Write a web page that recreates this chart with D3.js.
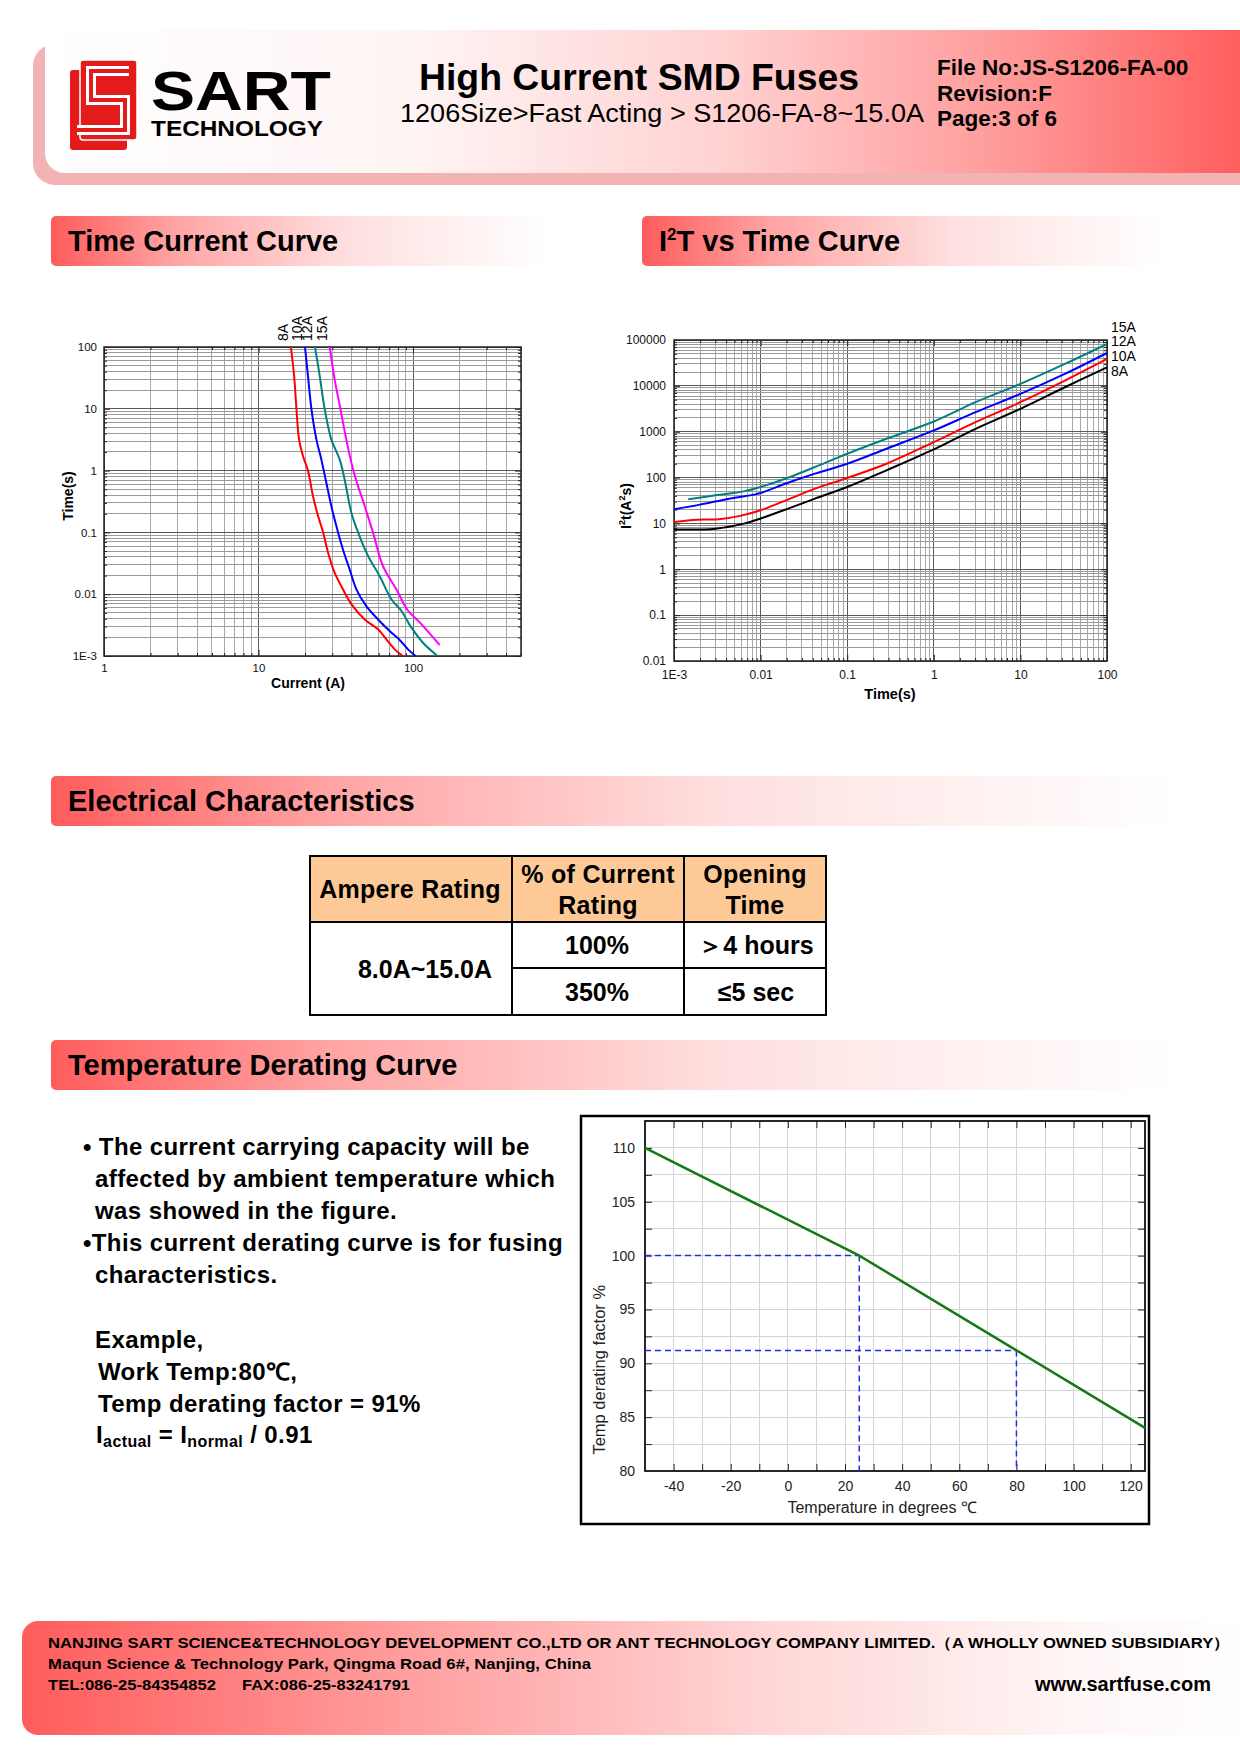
<!DOCTYPE html>
<html>
<head>
<meta charset="utf-8">
<script src="https://cdn.jsdelivr.net/npm/d3@7"></script>
<style>
  body { margin: 0; background: #fff; }
  svg { display: block; font-family: "Liberation Sans", Arial, sans-serif; }
</style>
</head>
<body>
<div class="page"></div>
<script>
// ---- data ----

const ratings = ["8A", "10A", "12A", "15A"];

// time current curve, [current (A), time (s)]
const tcc8A = [[16.2, 100], [17.0, 34], [17.6, 10], [18.3, 3.2], [19.4, 1.72], [20.9, 1], [22.5, 0.39], [24.3, 0.184], [26.2, 0.1], [28.2, 0.047], [31.1, 0.0223], [35.2, 0.012], [39.9, 0.0069], [48.7, 0.0039], [59.4, 0.0027], [67.2, 0.00186], [76.1, 0.00128], [86, 0.001]];
const tcc10A = [[20.0, 100], [20.9, 34], [22.0, 10], [23.7, 3.2], [25.5, 1.52], [27.2, 0.72], [29.6, 0.267], [31.9, 0.127], [35.2, 0.053], [38.9, 0.0252], [43.0, 0.012], [49.9, 0.0064], [59.4, 0.0039], [70.6, 0.00254], [82.0, 0.00182], [92.8, 0.00128], [104, 0.001]];
const tcc12A = [[23.2, 100], [24.9, 34], [26.8, 10], [29.6, 3.2], [33.5, 1.52], [36.1, 0.72], [39.9, 0.208], [44.1, 0.1], [51.2, 0.0415], [60.8, 0.0197], [72.4, 0.0083], [84.0, 0.0054], [97.5, 0.0029], [116, 0.00164], [144, 0.001]];
const tcc15A = [[28.9, 100], [31.1, 30], [33.9, 10], [37.0, 3.2], [40.9, 1.05], [44.1, 0.56], [48.7, 0.267], [55.1, 0.1], [63.9, 0.0286], [78.0, 0.012], [92.8, 0.0054], [110.5, 0.0035], [149, 0.0015]];

const tccXTicks = [1, 10, 100];
const tccXLabels = ["1", "10", "100"];
const tccYTicks = [0.001, 0.01, 0.1, 1, 10, 100];
const tccYLabels = ["1E-3", "0.01", "0.1", "1", "10", "100"];

// I2t vs time, [time (s), I2t (A2s)]
const i2t8A = [[0.001, 7.4], [0.003, 7.7], [0.0064, 9.9], [0.01, 12.8], [0.0219, 21.8], [0.0424, 34.7], [0.1, 62.4], [0.284, 144], [1, 411], [3.04, 1158], [10, 3155], [32.6, 9330], [100, 25400]];
const i2t10A = [[0.001, 10.8], [0.00185, 12.1], [0.00327, 12.3], [0.0058, 14.6], [0.01, 19.4], [0.0219, 34.7], [0.0424, 57.4], [0.1, 98], [0.284, 200], [1, 594], [3.04, 1618], [10, 4400], [32.6, 13000], [100, 38600]];
const i2t12A = [[0.001, 20.4], [0.002, 25.7], [0.00435, 34.7], [0.0085, 42.5], [0.01, 46], [0.0219, 80], [0.0424, 122], [0.1, 200], [0.284, 425], [1, 1066], [3.04, 2670], [10, 6680], [32.6, 18200], [100, 52100]];
const i2t15A = [[0.00146, 33.6], [0.003, 41], [0.0064, 50], [0.01, 62.4], [0.0219, 103], [0.0424, 170], [0.1, 331], [0.284, 701], [1, 1670], [3.04, 4400], [10, 11040], [32.6, 30060], [100, 81800]];

const i2tXTicks = [0.001, 0.01, 0.1, 1, 10, 100];
const i2tXLabels = ["1E-3", "0.01", "0.1", "1", "10", "100"];
const i2tYTicks = [0.01, 0.1, 1, 10, 100, 1000, 10000, 100000];
const i2tYLabels = ["0.01", "0.1", "1", "10", "100", "1000", "10000", "100000"];

// temperature derating
const derateTemp = [-50, 25, 80, 125];
const derateFactor = [110, 100, 91.2, 84];
const derateRefTemp = [25, 80];
const derateRefFactor = [100, 91.2];
const derateXTicks = [-40, -20, 0, 20, 40, 60, 80, 100, 120];
const derateYTicks = [80, 85, 90, 95, 100, 105, 110];

// electrical characteristics table
const tableHeader = [["Ampere Rating"], ["% of Current", "Rating"], ["Opening", "Time"]];
const tableRating = "8.0A~15.0A";
const tablePercent = ["100%", "350%"];
const tableTime = ["\uFF1E4 hours", "\u22645 sec"];

const noteLines = [
  "\u2022 The current carrying capacity will be",
  "affected by ambient temperature which",
  "was showed in the figure.",
  "\u2022This current derating curve is for fusing",
  "characteristics."
];
const exampleLines = ["Example,", "Work Temp:80\u2103,", "Temp derating factor = 91%"];

const footerLines = [
  "NANJING SART SCIENCE&TECHNOLOGY DEVELOPMENT CO.,LTD OR ANT TECHNOLOGY COMPANY LIMITED.\uFF08A WHOLLY OWNED SUBSIDIARY\uFF09",
  "Maqun Science & Technology Park, Qingma Road 6#, Nanjing, China"
];


// ---- page ----

const svg = d3.select(".page").append("svg")
  .attr("width", 1240)
  .attr("height", 1754);

const defs = svg.append("defs");

function gradient(id, stops) {
  let lg = defs.append("linearGradient").attr("id", id)
    .attr("x1", "0%").attr("x2", "100%").attr("y1", "0%").attr("y2", "0%");
  stops.forEach(s => lg.append("stop").attr("offset", s[0]).attr("stop-color", s[1]));
}

gradient("hdrGrad", [["0%", "#ffffff"], ["30%", "#fff4f4"], ["55%", "#ffd2d2"], ["78%", "#ff9a9a"], ["100%", "#ff5656"]]);
gradient("secGrad", [["0%", "#ff5c5c"], ["25%", "#ffa4a4"], ["60%", "#ffe0e0"], ["100%", "#ffffff"]]);
gradient("footGrad", [["0%", "#ff5c5c"], ["30%", "#ff9c9c"], ["60%", "#ffd6d6"], ["85%", "#fff6f6"], ["100%", "#ffffff"]]);

drawHeader();
sectionBar(51, 216, 497, 50, "Time Current Curve");
sectionBar(642, 216, 521, 50, null);
sectionBar(51, 776, 1125, 50, "Electrical Characteristics");
sectionBar(51, 1040, 1125, 50, "Temperature Derating Curve");

drawTimeCurrent();
drawI2t();
drawTable();
drawNotes();
drawDerating();
drawFooter();


function drawHeader() {
  svg.append("rect").attr("x", 33).attr("y", 44).attr("width", 1240).attr("height", 141)
    .attr("rx", 22).attr("fill", "#f1b3b3");
  svg.append("rect").attr("x", 45).attr("y", 30).attr("width", 1230).attr("height", 143)
    .attr("rx", 20).attr("fill", "url(#hdrGrad)");

  // logo
  let logo = svg.append("g");
  logo.append("rect").attr("x", 70).attr("y", 70).attr("width", 57).attr("height", 80).attr("rx", 3).attr("fill", "#e31b1b");
  logo.append("rect").attr("x", 80).attr("y", 60).attr("width", 57).attr("height", 80).attr("rx", 3)
    .attr("fill", "#e31b1b").attr("stroke", "#fff").attr("stroke-width", 1.5);
  let sPath = "M129,71 H91 V100 H125 V130 H77";
  logo.append("path").attr("d", sPath).attr("fill", "none").attr("stroke", "#fff").attr("stroke-width", 10);
  logo.append("path").attr("d", sPath).attr("fill", "none").attr("stroke", "#e31b1b").attr("stroke-width", 4);

  // squat heavy wordmark, stretched vertically so its box stays clear of the line below
  svg.append("g").attr("transform", "translate(151,110) scale(1,1.2)")
    .append("text").attr("font-size", 46).attr("font-weight", "bold")
    .attr("textLength", 180).attr("lengthAdjust", "spacingAndGlyphs").text("SART");
  svg.append("text").attr("x", 151).attr("y", 136).attr("font-size", 22).attr("font-weight", "bold")
    .attr("textLength", 172).attr("lengthAdjust", "spacingAndGlyphs").text("TECHNOLOGY");

  svg.append("text").attr("x", 419).attr("y", 90).attr("font-size", 36).attr("font-weight", "bold")
    .attr("textLength", 440).attr("lengthAdjust", "spacingAndGlyphs").text("High Current SMD Fuses");
  svg.append("text").attr("x", 400).attr("y", 122).attr("font-size", 25)
    .attr("textLength", 524).attr("lengthAdjust", "spacingAndGlyphs").text("1206Size>Fast Acting > S1206-FA-8~15.0A");

  let info = ["File No:JS-S1206-FA-00", "Revision:F", "Page:3 of 6"];
  svg.selectAll(".info").data(info).enter().append("text")
    .attr("x", 937)
    .attr("y", (d, i) => 75 + i * 25.5)
    .attr("font-size", 22.5)
    .attr("font-weight", "bold")
    .text(d => d);
}

function sectionBar(x, y, w, h, label) {
  svg.append("rect").attr("x", x).attr("y", y).attr("width", w).attr("height", h)
    .attr("rx", 5).attr("fill", "url(#secGrad)");
  let t = svg.append("text").attr("x", x + 17).attr("y", y + 35)
    .attr("font-size", 29).attr("font-weight", "bold");
  if (label) {
    t.text(label);
  } else {
    t.append("tspan").text("I");
    t.append("tspan").attr("font-size", 17).attr("dy", -11).text("2");
    t.append("tspan").attr("dy", 11).text("T vs Time Curve");
  }
}


// log-log chart frame with dense grid
function logSteps(dom) {
  let out = [];
  let lo = Math.floor(Math.log10(dom[0]) + 1e-9);
  let hi = Math.ceil(Math.log10(dom[1]) - 1e-9);
  for (let e = lo; e <= hi; e++) {
    for (let k = 1; k <= 9; k++) {
      let v = +(k * Math.pow(10, e)).toPrecision(6);
      if (v >= dom[0] * 0.999 && v <= dom[1] * 1.001) out.push(v);
    }
  }
  return out;
}

function isDecade(v) {
  let l = Math.log10(v);
  return Math.abs(l - Math.round(l)) < 1e-6;
}

function innerTicks(g, scale, vals, orient, pos, len) {
  let horiz = orient === "axisTop" || orient === "axisBottom";
  let a = g.append("g")
    .attr("transform", horiz ? `translate(0,${pos})` : `translate(${pos},0)`)
    .call(d3[orient](scale).tickValues(vals).tickSize(-len).tickFormat(""));
  a.select(".domain").remove();
  a.selectAll("line").attr("stroke", "#222").attr("stroke-width", 1);
  return a;
}

function logFrame(o) {
  let g = svg.append("g").attr("transform", `translate(${o.left},${o.top})`);
  let x = d3.scaleLog().domain(o.xDomain).range([0, o.width]);
  let y = d3.scaleLog().domain(o.yDomain).range([o.height, 0]);
  let xs = logSteps(o.xDomain), ys = logSteps(o.yDomain);

  let grid = g.append("g").attr("shape-rendering", "crispEdges");
  grid.selectAll(".vg").data(xs).enter().append("line")
    .attr("x1", d => x(d)).attr("x2", d => x(d))
    .attr("y1", 0).attr("y2", o.height)
    .attr("stroke", d => isDecade(d) ? "#5a5a5a" : "#a8a8a8");
  grid.selectAll(".hg").data(ys).enter().append("line")
    .attr("y1", d => y(d)).attr("y2", d => y(d))
    .attr("x1", 0).attr("x2", o.width)
    .attr("stroke", d => isDecade(d) ? "#5a5a5a" : "#9a9a9a");

  let xMaj = xs.filter(isDecade), xMin = xs.filter(d => !isDecade(d));
  let yMaj = ys.filter(isDecade), yMin = ys.filter(d => !isDecade(d));
  innerTicks(g, x, xMaj, "axisTop", 0, 6);
  innerTicks(g, x, xMin, "axisTop", 0, 3);
  innerTicks(g, x, xMaj, "axisBottom", o.height, 6);
  innerTicks(g, x, xMin, "axisBottom", o.height, 3);
  innerTicks(g, y, yMaj, "axisLeft", 0, 6);
  innerTicks(g, y, yMin, "axisLeft", 0, 3);
  innerTicks(g, y, yMaj, "axisRight", o.width, 6);
  innerTicks(g, y, yMin, "axisRight", o.width, 3);

  g.append("rect").attr("width", o.width).attr("height", o.height)
    .attr("fill", "none").attr("stroke", "#222").attr("stroke-width", 1.5);

  // tick labels
  let xl = g.append("g").attr("transform", `translate(0,${o.height})`)
    .call(d3.axisBottom(x).tickValues(o.xTicks).tickSize(0).tickPadding(o.xPad)
      .tickFormat((d, i) => o.xLabels[i]));
  xl.select(".domain").remove();
  xl.selectAll("text").attr("font-size", o.tickFont).attr("font-family", "Liberation Sans, Arial, sans-serif").attr("fill", "#111");

  let yl = g.append("g")
    .call(d3.axisLeft(y).tickValues(o.yTicks).tickSize(0).tickPadding(o.yPad)
      .tickFormat((d, i) => o.yLabels[i]));
  yl.select(".domain").remove();
  yl.selectAll("text").attr("font-size", o.tickFont).attr("font-family", "Liberation Sans, Arial, sans-serif").attr("fill", "#111");

  return { g: g, x: x, y: y };
}


function drawTimeCurrent() {
  let c = logFrame({
    left: 104, top: 347, width: 417, height: 309,
    xDomain: [1, 500], yDomain: [0.001, 100],
    xTicks: tccXTicks, xLabels: tccXLabels,
    yTicks: tccYTicks, yLabels: tccYLabels,
    tickFont: 11.5, xPad: 8, yPad: 7
  });

  let colors = ["#ff0000", "#0000ff", "#008080", "#ff00ff"];
  let sets = [tcc8A, tcc10A, tcc12A, tcc15A];

  let line = d3.line()
    .x(d => c.x(d[0]))
    .y(d => c.y(d[1]))
    .curve(d3.curveCatmullRom.alpha(0.5));

  c.g.selectAll(".tcc").data(sets).enter().append("path")
    .attr("d", d => line(d))
    .attr("fill", "none")
    .attr("stroke", (d, i) => colors[i])
    .attr("stroke-width", 2);

  c.g.selectAll(".tccLab").data(sets).enter().append("text")
    .attr("transform", d => `translate(${c.x(d[0][0]) - 3},-6) rotate(-90)`)
    .attr("font-size", 14)
    .text((d, i) => ratings[i]);

  c.g.append("text").attr("x", 204).attr("y", 341).attr("text-anchor", "middle")
    .attr("font-size", 14).attr("font-weight", "bold").text("Current (A)");
  c.g.append("text").attr("transform", "translate(-31,149) rotate(-90)").attr("text-anchor", "middle")
    .attr("font-size", 14).attr("font-weight", "bold").text("Time(s)");
}


function drawI2t() {
  let c = logFrame({
    left: 674, top: 340, width: 433, height: 321,
    xDomain: [0.001, 100], yDomain: [0.01, 100000],
    xTicks: i2tXTicks, xLabels: i2tXLabels,
    yTicks: i2tYTicks, yLabels: i2tYLabels,
    tickFont: 12, xPad: 9, yPad: 8
  });

  let colors = ["#000000", "#ff0000", "#0000ff", "#008080"];
  let sets = [i2t8A, i2t10A, i2t12A, i2t15A];

  let line = d3.line()
    .x(d => c.x(d[0]))
    .y(d => c.y(d[1]))
    .curve(d3.curveCatmullRom.alpha(0.5));

  c.g.selectAll(".i2t").data(sets).enter().append("path")
    .attr("d", d => line(d))
    .attr("fill", "none")
    .attr("stroke", (d, i) => colors[i])
    .attr("stroke-width", 2);

  // labels stacked at the right, top one is 15A
  let order = ratings.slice().reverse();
  c.g.selectAll(".i2tLab").data(order).enter().append("text")
    .attr("x", 437)
    .attr("y", (d, i) => -8.5 + i * 14.8)
    .attr("font-size", 14)
    .text(d => d);

  c.g.append("text").attr("x", 216).attr("y", 359).attr("text-anchor", "middle")
    .attr("font-size", 14.5).attr("font-weight", "bold").text("Time(s)");

  let yt = c.g.append("text").attr("transform", "translate(-43,166) rotate(-90)").attr("text-anchor", "middle")
    .attr("font-size", 14).attr("font-weight", "bold");
  yt.append("tspan").text("I");
  yt.append("tspan").attr("font-size", 9).attr("dy", -6).text("2");
  yt.append("tspan").attr("dy", 6).text("t(A");
  yt.append("tspan").attr("font-size", 9).attr("dy", -6).text("2");
  yt.append("tspan").attr("dy", 6).text("s)");
}


function drawTable() {
  let cols = [310, 512, 684, 826];
  let rows = [856, 922, 968, 1015];
  let t = svg.append("g").attr("font-size", 25).attr("font-weight", "bold").attr("text-anchor", "middle");

  t.append("rect").attr("x", cols[0]).attr("y", rows[0]).attr("width", cols[3] - cols[0]).attr("height", rows[1] - rows[0])
    .attr("fill", "#fdc997");

  let border = t.append("g").attr("stroke", "#000").attr("stroke-width", 1.2).attr("shape-rendering", "crispEdges");
  border.append("rect").attr("x", cols[0]).attr("y", rows[0]).attr("width", cols[3] - cols[0]).attr("height", rows[3] - rows[0]).attr("fill", "none");
  border.append("line").attr("x1", cols[0]).attr("x2", cols[3]).attr("y1", rows[1]).attr("y2", rows[1]);
  border.append("line").attr("x1", cols[1]).attr("x2", cols[3]).attr("y1", rows[2]).attr("y2", rows[2]);
  border.append("line").attr("x1", cols[1]).attr("x2", cols[1]).attr("y1", rows[0]).attr("y2", rows[3]);
  border.append("line").attr("x1", cols[2]).attr("x2", cols[2]).attr("y1", rows[0]).attr("y2", rows[3]);

  tableHeader.forEach((lines, i) => {
    let cx = (cols[i] + cols[i + 1]) / 2 + (i === 0 ? -1 : 0);
    let cy = (rows[0] + rows[1]) / 2;
    lines.forEach((s, j) => {
      t.append("text").attr("x", cx).attr("y", cy + 9 + (j - (lines.length - 1) / 2) * 31)
        .attr("letter-spacing", 0.3).text(s);
    });
  });

  t.append("text").attr("x", 425).attr("y", (rows[1] + rows[3]) / 2 + 9).text(tableRating);
  tablePercent.forEach((s, i) => {
    t.append("text").attr("x", 597).attr("y", (rows[1 + i] + rows[2 + i]) / 2 + 9).text(s);
  });
  tableTime.forEach((s, i) => {
    t.append("text").attr("x", 756).attr("y", (rows[1 + i] + rows[2 + i]) / 2 + 9).text(s);
  });
}


function drawNotes() {
  let n = svg.append("g").attr("font-size", 24).attr("font-weight", "bold").attr("letter-spacing", 0.4);
  let noteX = [83, 95, 95, 83, 95];
  n.selectAll(".note").data(noteLines).enter().append("text")
    .attr("x", (d, i) => noteX[i])
    .attr("y", (d, i) => 1155 + i * 32)
    .text(d => d);

  let exX = [95, 98, 98];
  n.selectAll(".ex").data(exampleLines).enter().append("text")
    .attr("x", (d, i) => exX[i])
    .attr("y", (d, i) => 1348 + i * 31.8)
    .text(d => d);

  let f = n.append("text").attr("x", 96).attr("y", 1443);
  f.append("tspan").text("I");
  f.append("tspan").attr("font-size", 16).attr("dy", 4).text("actual");
  f.append("tspan").attr("dy", -4).text(" = I");
  f.append("tspan").attr("font-size", 16).attr("dy", 4).text("normal");
  f.append("tspan").attr("dy", -4).text(" / 0.91");
}


function drawDerating() {
  svg.append("rect").attr("x", 581).attr("y", 1116).attr("width", 568).attr("height", 408)
    .attr("fill", "#fff").attr("stroke", "#000").attr("stroke-width", 2.5);

  let left = 645, top = 1121, width = 500, height = 350;
  let g = svg.append("g").attr("transform", `translate(${left},${top})`);
  let x = d3.scaleLinear().domain([-50, 125]).range([0, width]);
  let y = d3.scaleLinear().domain([80, 112.5]).range([height, 0]);

  let xGrid = d3.range(-40, 125, 10);
  let yGrid = d3.range(82.5, 112.5, 2.5);

  let grid = g.append("g").attr("stroke", "#d4d4d4").attr("shape-rendering", "crispEdges");
  grid.selectAll(".vg").data(xGrid).enter().append("line")
    .attr("x1", d => x(d)).attr("x2", d => x(d)).attr("y1", 0).attr("y2", height);
  grid.selectAll(".hg").data(yGrid).enter().append("line")
    .attr("y1", d => y(d)).attr("y2", d => y(d)).attr("x1", 0).attr("x2", width);

  innerTicks(g, x, xGrid, "axisTop", 0, 7);
  innerTicks(g, x, xGrid, "axisBottom", height, 7);
  innerTicks(g, y, yGrid, "axisLeft", 0, 7);
  innerTicks(g, y, yGrid, "axisRight", width, 7);

  g.append("rect").attr("width", width).attr("height", height)
    .attr("fill", "none").attr("stroke", "#111").attr("stroke-width", 1.8);

  // reference dashes
  let refs = derateRefTemp.map((t, i) => [t, derateRefFactor[i]]);
  let dash = g.append("g").attr("stroke", "#1f2fe0").attr("stroke-width", 1.5).attr("stroke-dasharray", "6,4").attr("fill", "none");
  dash.selectAll(".rh").data(refs).enter().append("line")
    .attr("x1", x(-50)).attr("x2", d => x(d[0]))
    .attr("y1", d => y(d[1])).attr("y2", d => y(d[1]));
  dash.selectAll(".rv").data(refs).enter().append("line")
    .attr("x1", d => x(d[0])).attr("x2", d => x(d[0]))
    .attr("y1", d => y(d[1])).attr("y2", y(80));

  let pts = derateTemp.map((t, i) => [t, derateFactor[i]]);
  g.append("path")
    .attr("d", d3.line().x(d => x(d[0])).y(d => y(d[1]))(pts))
    .attr("fill", "none").attr("stroke", "#157a15").attr("stroke-width", 2.5);

  let xl = g.append("g").attr("transform", `translate(0,${height})`)
    .call(d3.axisBottom(x).tickValues(derateXTicks).tickSize(0).tickPadding(10).tickFormat(d => String(d)));
  xl.select(".domain").remove();
  xl.selectAll("text").attr("font-size", 14).attr("font-family", "Liberation Sans, Arial, sans-serif").attr("fill", "#222");

  let yl = g.append("g")
    .call(d3.axisLeft(y).tickValues(derateYTicks).tickSize(0).tickPadding(10).tickFormat(d => String(d)));
  yl.select(".domain").remove();
  yl.selectAll("text").attr("font-size", 14).attr("font-family", "Liberation Sans, Arial, sans-serif").attr("fill", "#222");

  g.append("text").attr("x", x(33)).attr("y", height + 42).attr("text-anchor", "middle")
    .attr("font-size", 16).attr("fill", "#222").text("Temperature in degrees \u2103");
  g.append("text").attr("transform", `translate(-40,${y(89.4)}) rotate(-90)`).attr("text-anchor", "middle")
    .attr("font-size", 16.5).attr("fill", "#222").text("Temp derating factor %");
}


function drawFooter() {
  svg.append("rect").attr("x", 22).attr("y", 1621).attr("width", 1240).attr("height", 114)
    .attr("rx", 16).attr("fill", "url(#footGrad)");

  let f = svg.append("g").attr("font-weight", "bold");
  f.append("text").attr("x", 48).attr("y", 1648).attr("font-size", 15)
    .attr("textLength", 1182).attr("lengthAdjust", "spacingAndGlyphs").text(footerLines[0]);
  f.append("text").attr("x", 48).attr("y", 1669).attr("font-size", 15)
    .attr("textLength", 543).attr("lengthAdjust", "spacingAndGlyphs").text(footerLines[1]);
  f.append("text").attr("x", 48).attr("y", 1690).attr("font-size", 15)
    .attr("textLength", 168).attr("lengthAdjust", "spacingAndGlyphs").text("TEL:086-25-84354852");
  f.append("text").attr("x", 242).attr("y", 1690).attr("font-size", 15)
    .attr("textLength", 168).attr("lengthAdjust", "spacingAndGlyphs").text("FAX:086-25-83241791");
  f.append("text").attr("x", 1211).attr("y", 1691).attr("font-size", 20).attr("text-anchor", "end")
    .text("www.sartfuse.com");
}
</script>
</body>
</html>
